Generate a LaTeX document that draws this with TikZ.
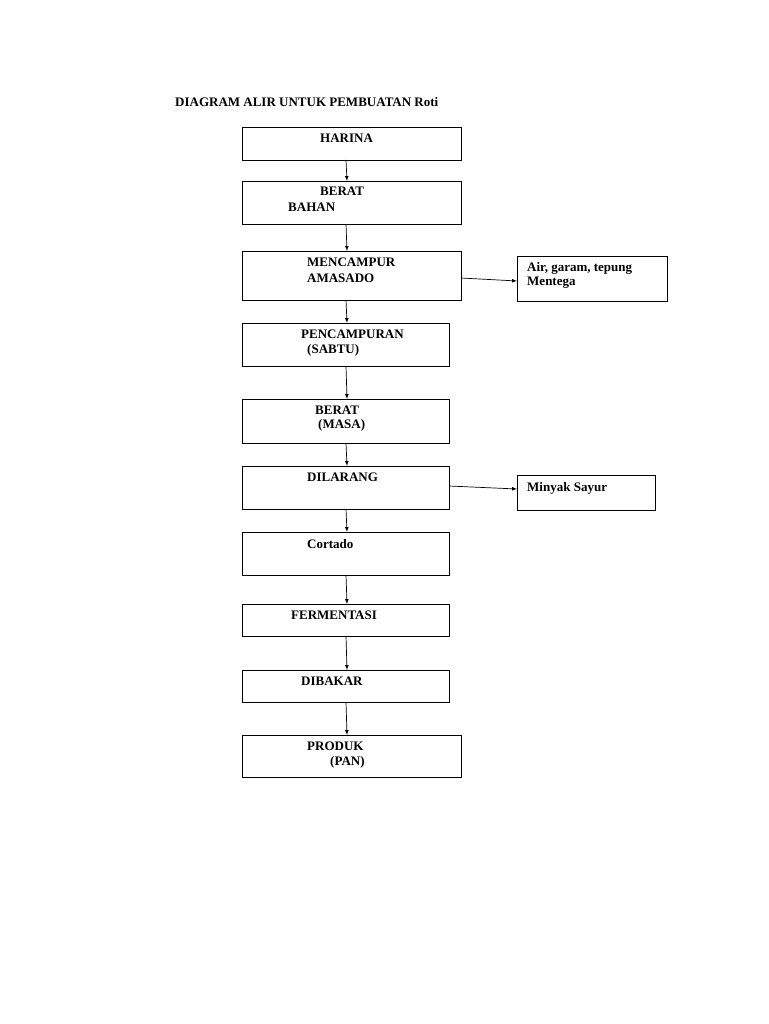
\documentclass[tikz,border=0pt]{standalone}
\usepackage{fontspec}
\setmainfont{Liberation Serif}
\usetikzlibrary{calc}
\begin{document}
\begin{tikzpicture}[x=1pt,y=-1pt,
 box/.style={draw,line width=0.8pt},
 t/.style={anchor=west,inner sep=0pt,font=\bfseries\fontsize{13}{15}\selectfont},
 ar/.style={-latex,line width=0.7pt}]
\useasboundingbox (0,0) rectangle (768,1024);
\node[t] (title) at (175,102) {DIAGRAM ALIR UNTUK PEMBUATAN Roti};
\draw[box] (242,127) rectangle (461,160); \coordinate (b1t) at (346,127); \coordinate (b1b) at (346,160);
\draw[box] (242,181) rectangle (461,224); \coordinate (b2t) at (347,181); \coordinate (b2b) at (346,224);
\draw[box] (242,251) rectangle (461,300); \coordinate (b3t) at (347,251); \coordinate (b3b) at (346,300); \coordinate (b3r) at (461,278);
\draw[box] (242,323) rectangle (449,366); \coordinate (b4t) at (347,323); \coordinate (b4b) at (346,366);
\draw[box] (242,399) rectangle (449,443); \coordinate (b5t) at (347,399); \coordinate (b5b) at (346,443);
\draw[box] (242,466) rectangle (449,509); \coordinate (b6t) at (347,466); \coordinate (b6b) at (346,509); \coordinate (b6r) at (449,486);
\draw[box] (242,532) rectangle (449,575); \coordinate (b7t) at (347,532); \coordinate (b7b) at (346,575);
\draw[box] (242,604) rectangle (449,636); \coordinate (b8t) at (347,604); \coordinate (b8b) at (346,636);
\draw[box] (242,670) rectangle (449,702); \coordinate (b9t) at (347,670); \coordinate (b9b) at (346,702);
\draw[box] (242,735) rectangle (461,777); \coordinate (b10t) at (347,735);
\draw[box] (517,256) rectangle (667,301); \coordinate (s1) at (517,281);
\draw[box] (517,475) rectangle (655,510); \coordinate (s2) at (517,489);
\node[t] (h) at (320,138) {HARINA};
\node[t] (be1) at (320,191) {BERAT};
\node[t] (be2) at (288,207) {BAHAN};
\node[t] (m1) at (307,262) {MENCAMPUR};
\node[t] (m2) at (307,278) {AMASADO};
\node[t] (p1) at (301,334) {PENCAMPURAN};
\node[t] (p2) at (307,350) {(SABTU)};
\node[t] (ma1) at (315,410) {BERAT};
\node[t] (ma2) at (318,425) {(MASA)};
\node[t] (d) at (307,477) {DILARANG};
\node[t] (c) at (307,544) {Cortado};
\node[t] (f) at (291,615) {FERMENTASI};
\node[t] (db) at (301,681) {DIBAKAR};
\node[t] (pr1) at (307,746) {PRODUK};
\node[t] (pr2) at (330,762) {(PAN)};
\node[t] (a1) at (527,268) {Air, garam, tepung};
\node[t] (a2) at (527,283) {Mentega};
\node[t] (ms) at (527,488) {Minyak Sayur};
\draw[ar] (b1b)--(b2t); \draw[ar] (b2b)--(b3t); \draw[ar] (b3b)--(b4t);
\draw[ar] (b4b)--(b5t); \draw[ar] (b5b)--(b6t); \draw[ar] (b6b)--(b7t);
\draw[ar] (b7b)--(b8t); \draw[ar] (b8b)--(b9t); \draw[ar] (b9b)--(b10t);
\draw[ar] (b3r)--(s1); \draw[ar] (b6r)--(s2);
\end{tikzpicture}
\end{document}
